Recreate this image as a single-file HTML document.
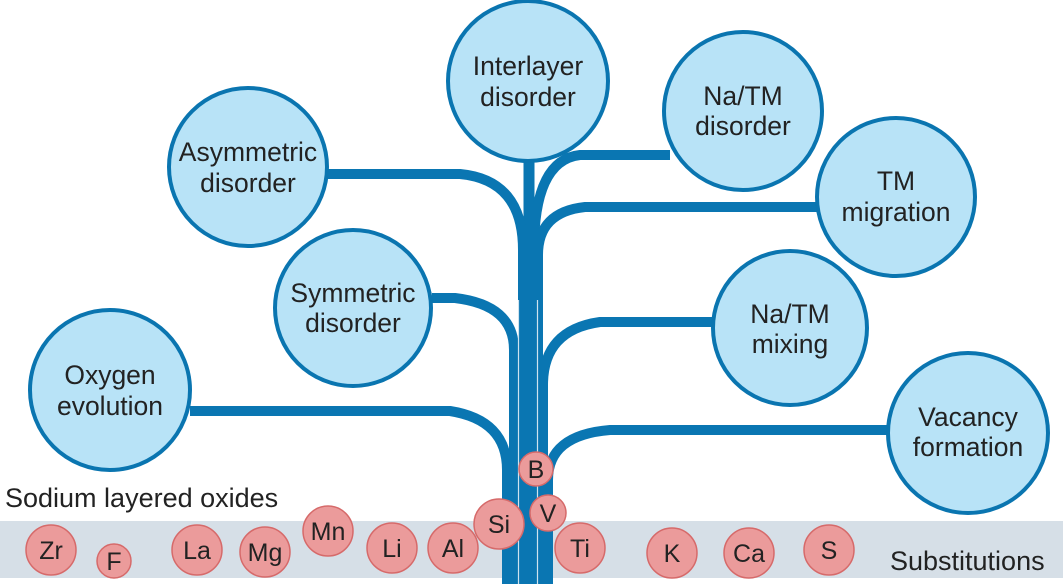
<!DOCTYPE html>
<html><head><meta charset="utf-8"><style>
html,body{margin:0;padding:0;background:#fff;}
svg{display:block;}
text{font-family:"Liberation Sans",sans-serif;fill:#222;}
</style></head><body>
<svg width="1063" height="584" viewBox="0 0 1063 584" xmlns="http://www.w3.org/2000/svg">
<rect x="0" y="521" width="1063" height="57" fill="#d6dfe7"/>
<g fill="none" stroke="#0a76b2" stroke-width="10">
<path d="M529 150 V584" stroke-width="11"/>
<path d="M670 155 H580 Q534 160 534 250 V584"/>
<path d="M820 207 H585 Q538 212 538 255 V584"/>
<path d="M328 174 H460 Q523 180 523 250 V584"/>
<path d="M432 298 H455 Q514 305 514 350 V584"/>
<path d="M713 322 H600 Q543 330 543 385 V584"/>
<path d="M190 411 H450 Q507 420 507 470 V584"/>
<path d="M890 430 H610 Q548 435 548 480 V584"/>
</g>
<g stroke="#fff" stroke-width="1.2" opacity="0.8">
<line x1="518.5" y1="300" x2="518.5" y2="584"/>
<line x1="537.5" y1="300" x2="537.5" y2="584"/>
</g>
<g fill="#b8e3f7" stroke="#0a75b0" stroke-width="4">
<circle cx="528" cy="81" r="80"/>
<circle cx="743" cy="111" r="79"/>
<circle cx="896" cy="197" r="79"/>
<circle cx="248" cy="167" r="79"/>
<circle cx="353" cy="308" r="78"/>
<circle cx="790" cy="328" r="77"/>
<circle cx="110" cy="390" r="80"/>
<circle cx="968" cy="433" r="80"/>
</g>
<g font-size="26.5" text-anchor="middle">
<text x="528" y="75">Interlayer</text><text x="528" y="106">disorder</text>
<text x="743" y="105">Na/TM</text><text x="743" y="135">disorder</text>
<text x="896" y="190">TM</text><text x="896" y="221">migration</text>
<text x="248" y="161">Asymmetric</text><text x="248" y="192">disorder</text>
<text x="353" y="302">Symmetric</text><text x="353" y="332">disorder</text>
<text x="790" y="323">Na/TM</text><text x="790" y="353">mixing</text>
<text x="110" y="384">Oxygen</text><text x="110" y="415">evolution</text>
<text x="968" y="426">Vacancy</text><text x="968" y="456">formation</text>
</g>
<g fill="#eb9b9b" stroke="#d66a6a" stroke-width="1.5">
<circle cx="536" cy="469" r="17"/>
<circle cx="499" cy="524" r="25"/>
<circle cx="548" cy="513" r="18"/>
<circle cx="580" cy="548" r="25"/>
<circle cx="51" cy="550" r="25"/>
<circle cx="114" cy="561" r="17"/>
<circle cx="197" cy="550" r="25"/>
<circle cx="265" cy="552" r="25"/>
<circle cx="328" cy="531" r="25"/>
<circle cx="392" cy="548" r="25"/>
<circle cx="453" cy="548" r="25"/>
<circle cx="672" cy="553" r="25"/>
<circle cx="749" cy="553" r="25"/>
<circle cx="829" cy="550" r="25"/>
</g>
<g font-size="25" text-anchor="middle">
<text x="536" y="478">B</text>
<text x="499" y="533">Si</text>
<text x="548" y="522">V</text>
<text x="580" y="557">Ti</text>
<text x="51" y="559">Zr</text>
<text x="114" y="570">F</text>
<text x="197" y="559">La</text>
<text x="265" y="561">Mg</text>
<text x="328" y="540">Mn</text>
<text x="392" y="557">Li</text>
<text x="453" y="557">Al</text>
<text x="672" y="562">K</text>
<text x="749" y="562">Ca</text>
<text x="829" y="559">S</text>
</g>
<text x="5" y="507" font-size="27">Sodium layered oxides</text>
<text x="890" y="570" font-size="27">Substitutions</text>
</svg>
</body></html>
